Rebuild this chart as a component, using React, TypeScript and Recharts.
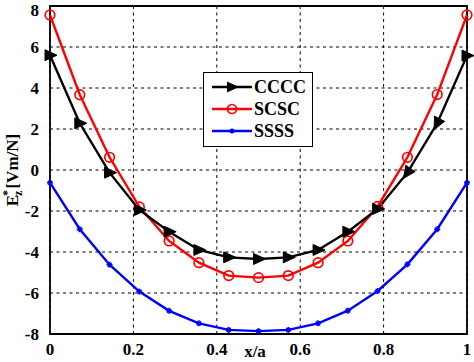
import { LineChart, Line, XAxis, YAxis, CartesianGrid, Legend, ReferenceArea } from "recharts";

const xPos = [0, 1 / 14, 2 / 14, 3 / 14, 4 / 14, 5 / 14, 6 / 14, 7 / 14, 8 / 14, 9 / 14, 10 / 14, 11 / 14, 12 / 14, 13 / 14, 1];
const cccc = [5.6, 2.28, -0.13, -1.95, -3.01, -3.9, -4.26, -4.34, -4.26, -3.9, -3.01, -1.9, -0.13, 2.28, 5.58];
const scsc = [7.56, 3.67, 0.62, -1.8, -3.46, -4.52, -5.15, -5.25, -5.15, -4.52, -3.46, -1.78, 0.62, 3.68, 7.56];
const ssss = [-0.62, -2.89, -4.62, -5.93, -6.87, -7.48, -7.8, -7.86, -7.8, -7.48, -6.86, -5.9, -4.6, -2.89, -0.62];
const xTicks = [0, 0.2, 0.4, 0.6, 0.8, 1];
const yTicks = [-8, -6, -4, -2, 0, 2, 4, 6, 8];

const data = xPos.map((x, i) => ({ x, cccc: cccc[i], scsc: scsc[i], ssss: ssss[i] }));

const font = "Liberation Serif, Times New Roman, serif";

// pixel scale of the plot area, only used to tilt a couple of arrow markers
const PX_X = 416.7;
const PX_Y = 20.5;

const Arrow = (props: any) => {
  const { cx, cy, index } = props;
  if (cx == null || cy == null) return null;
  let angle = 0;
  if (index === 12 || index === 13) {
    const dx = (xPos[index + 1] - xPos[index - 1]) * PX_X;
    const dy = -(cccc[index + 1] - cccc[index - 1]) * PX_Y;
    angle = (Math.atan2(dy, dx) * 180) / Math.PI + 180;
  }
  return (
    <path
      key={`a${index}`}
      d="M7,0 L-5,-5.5 L-5,5.5 Z"
      fill="#000"
      stroke="#000"
      strokeWidth={1}
      transform={`translate(${cx},${cy}) rotate(${angle})`}
    />
  );
};

const Ring = (props: any) => {
  const { cx, cy, index } = props;
  if (cx == null || cy == null) return null;
  return <circle key={`r${index}`} cx={cx} cy={cy} r={4.8} fill="none" stroke="#ff0000" strokeWidth={1.7} />;
};

const Star = (props: any) => {
  const { cx, cy, index } = props;
  if (cx == null || cy == null) return null;
  return (
    <g key={`s${index}`} stroke="#0000ff" strokeWidth={1.6}>
      <line x1={cx - 3} y1={cy} x2={cx + 3} y2={cy} />
      <line x1={cx} y1={cy - 3} x2={cx} y2={cy + 3} />
      <line x1={cx - 2} y1={cy - 2} x2={cx + 2} y2={cy + 2} />
      <line x1={cx - 2} y1={cy + 2} x2={cx + 2} y2={cy - 2} />
    </g>
  );
};

const legendItems = [
  { name: "CCCC", color: "#000", mark: "arrow" },
  { name: "SCSC", color: "#ff0000", mark: "ring" },
  { name: "SSSS", color: "#0000ff", mark: "star" },
];

const LegendBox = () => (
  <div
    style={{
      width: 110,
      height: 75,
      border: "1.5px solid #000",
      background: "#fff",
      boxSizing: "border-box",
      fontFamily: font,
      fontWeight: "bold",
      fontSize: 18,
      padding: "3px 0 0 8px",
    }}
  >
    {legendItems.map((it) => (
      <div key={it.name} style={{ display: "flex", alignItems: "center", height: 22 }}>
        <svg width={40} height={14} style={{ marginRight: 2 }}>
          <line x1={0} y1={7} x2={40} y2={7} stroke={it.color} strokeWidth={2.4} />
          {it.mark === "arrow" && <path d="M27,7 L15,1.5 L15,12.5 Z" fill="#000" />}
          {it.mark === "ring" && <circle cx={20} cy={7} r={4.5} fill="none" stroke={it.color} strokeWidth={1.7} />}
          {it.mark === "star" && <circle cx={20} cy={7} r={2.5} fill={it.color} />}
        </svg>
        <span style={{ lineHeight: "22px" }}>{it.name}</span>
      </div>
    ))}
  </div>
);

const YLabel = () => (
  <text
    transform="translate(18,170) rotate(-90)"
    textAnchor="middle"
    fontFamily={font}
    fontWeight="bold"
    fontSize={17}
    fill="#000"
  >
    E
    <tspan fontSize={12} dy={-7} dx={-1}>*</tspan>
    <tspan fontSize={12} dy={11} dx={-6}>z</tspan>
    <tspan dy={-4} dx={2}>[Vm/N]</tspan>
  </text>
);

const tickStyle = { fill: "#000", fontFamily: font, fontWeight: "bold", fontSize: 17 };

export default function App() {
  return (
    <div style={{ position: "absolute", left: 0, top: 0, background: "#fff" }}>
      <LineChart width={474} height={362} data={data} margin={{ top: 6, right: 7, left: 0, bottom: 0 }}>
        <CartesianGrid stroke="#000" strokeDasharray="3 3.5" strokeWidth={1} />
        <XAxis
          dataKey="x"
          type="number"
          domain={[0, 1]}
          ticks={xTicks}
          tickFormatter={(v) => String(Number(v.toFixed(1)))}
          height={28}
          tickLine={false}
          axisLine={false}
          tick={tickStyle}
          tickMargin={3}
        />
        <YAxis
          type="number"
          domain={[-8, 8]}
          ticks={yTicks}
          width={50}
          tickLine={false}
          axisLine={false}
          tick={tickStyle}
          tickMargin={5}
        />
        <ReferenceArea x1={0} x2={1} y1={-8} y2={8} fill="none" stroke="#000" strokeWidth={1.8} />
        <Legend
          layout="horizontal"
          verticalAlign="middle"
          align="center"
          content={() => <LegendBox />}
          wrapperStyle={{ left: 203, top: 72, width: 110 }}
        />
        <Line dataKey="ssss" stroke="#0000ff" strokeWidth={2.4} dot={<Star />} isAnimationActive={false} />
        <Line dataKey="scsc" stroke="#ff0000" strokeWidth={2.4} dot={<Ring />} isAnimationActive={false} />
        <Line dataKey="cccc" stroke="#000" strokeWidth={2.4} dot={<Arrow />} isAnimationActive={false} />
        <text x={255} y={357} textAnchor="middle" fontFamily={font} fontWeight="bold" fontSize={17} fill="#000">
          x/a
        </text>
        <YLabel />
      </LineChart>
    </div>
  );
}
